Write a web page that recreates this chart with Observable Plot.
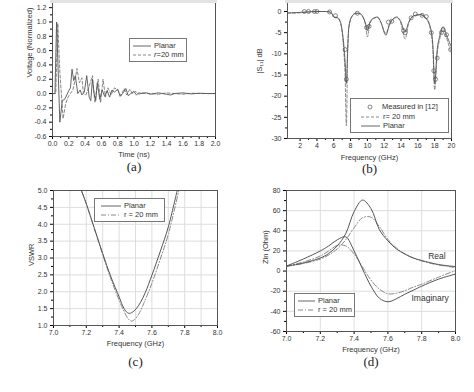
<!DOCTYPE html>
<html>
<head>
<meta charset="utf-8">
<script src="https://cdn.jsdelivr.net/npm/d3@7"></script>
<script src="https://cdn.jsdelivr.net/npm/@observablehq/plot@0.6"></script>
<style>
  html, body { margin: 0; padding: 0; background: #fff; }
  #fig { position: relative; width: 474px; height: 392px; overflow: hidden; background: #fff; font-family: "Liberation Sans", Arial, sans-serif; }
  .panel { position: absolute; }
  .band { position: absolute; top: 0; height: 3px; background: #e2e2e2; }
  .legend { position: absolute; border: 1px solid #777; background: #fff; box-sizing: border-box; }
  .legend span { position: absolute; font-size: 7.5px; color: #333; line-height: 1; white-space: nowrap; }
  .legend svg { position: absolute; overflow: visible; }
</style>
</head>
<body>
<div id="fig"></div>
<script>
// ---------- Panel (a): time-domain voltage ----------
const aPlanarT = [0, 0.03, 0.05, 0.07, 0.09, 0.12, 0.15, 0.2, 0.22, 0.24, 0.26, 0.28, 0.31, 0.34, 0.36, 0.39, 0.42, 0.45, 0.47, 0.49, 0.51, 0.53, 0.55, 0.58, 0.61, 0.64, 0.67, 0.7, 0.73, 0.76, 0.8, 0.83, 0.86, 0.9, 0.93, 0.96, 1.0, 1.03, 1.06, 1.1, 1.15, 1.2, 1.3, 1.4, 1.45, 1.5, 1.6, 1.7, 1.8, 1.9, 2.0];
const aPlanarV = [0, 0, 1.0, 0.3, -0.4, -0.1, -0.08, 0.04, 0.08, 0.34, 0.18, 0.25, 0.0, 0.05, -0.02, 0.02, 0.25, -0.05, -0.1, 0.2, 0.0, -0.1, 0.15, -0.08, 0.05, -0.04, 0.04, -0.05, 0.05, 0.02, 0.06, -0.04, 0.0, 0.07, -0.03, 0.0, 0.03, -0.02, 0.01, 0.0, 0.01, -0.01, 0.01, -0.01, -0.02, 0.0, 0.01, -0.005, 0.005, 0, 0];
const aR20T = [0, 0.04, 0.065, 0.09, 0.13, 0.16, 0.19, 0.22, 0.25, 0.28, 0.3, 0.33, 0.36, 0.38, 0.41, 0.45, 0.49, 0.52, 0.56, 0.59, 0.62, 0.65, 0.68, 0.72, 0.76, 0.8, 0.84, 0.88, 0.91, 0.95, 0.98, 1.02, 1.06, 1.1, 1.2, 1.3, 1.4, 1.5, 1.6, 1.7, 1.8, 1.9, 2.0];
const aR20V = [0, 0, 0.98, 0.3, -0.35, -0.15, -0.05, 0.0, 0.05, 0.2, 0.35, 0.15, 0.22, 0.0, -0.02, 0.1, 0.25, -0.12, 0.2, -0.13, 0.2, -0.05, 0.08, -0.02, 0.08, 0.05, -0.03, 0.07, -0.02, 0.06, 0.0, 0.03, -0.01, 0.01, 0.0, -0.01, 0.01, 0.0, -0.01, 0.005, 0, 0, 0];
const aXTicks = [0, 0.2, 0.4, 0.6, 0.8, 1.0, 1.2, 1.4, 1.6, 1.8, 2.0];
const aYTicks = [-0.6, -0.4, -0.2, 0, 0.2, 0.4, 0.6, 0.8, 1.0, 1.2];

// ---------- Panel (b): |S11| ----------
const bPlanarF = [0.5, 1, 2, 3, 4, 5, 5.5, 5.8, 6.0, 6.4, 6.7, 7.0, 7.2, 7.35, 7.5, 7.65, 7.8, 8.2, 8.6, 9.0, 9.4, 9.8, 10.0, 10.3, 10.8, 11.2, 11.6, 12.2, 12.6, 13.2, 13.5, 13.9, 14.5, 14.9, 15.5, 16.3, 16.9, 17.5, 17.8, 18.0, 18.3, 18.6, 19.0, 19.4, 19.9, 20.0];
const bPlanarV = [-0.3, -0.3, -0.2, -0.1, 0, 0, -0.1, -0.5, -1.3, -1.4, -2.0, -4.5, -8, -12, -17, -9, -3.5, -1.0, -0.4, -0.4, -1.0, -3.0, -4.5, -2.5, -1.5, -1.3, -2.5, -5.6, -3.3, -1.5, -1.3, -2.1, -4.8, -2.6, -1.0, -0.7, -1.4, -3.8, -8.5, -17, -9, -5.8, -3.6, -5.5, -8.0, -8.4];
const bR20F = [0.5, 1, 2, 3, 4, 5, 5.5, 5.8, 6.0, 6.4, 6.7, 7.0, 7.2, 7.35, 7.5, 7.65, 7.8, 8.2, 8.6, 9.0, 9.4, 9.8, 10.0, 10.3, 10.8, 11.2, 11.6, 12.2, 12.6, 13.2, 13.5, 13.9, 14.5, 14.9, 15.5, 16.3, 16.9, 17.5, 17.8, 18.0, 18.3, 18.6, 19.0, 19.4, 19.9, 20.0];
const bR20V = [-0.4, -0.4, -0.3, -0.1, 0, 0, -0.1, -0.6, -1.4, -1.5, -2.2, -5, -9.5, -15, -27, -10, -3.8, -1.1, -0.5, -0.5, -1.1, -3.4, -6.0, -2.8, -1.6, -1.4, -2.6, -5.2, -3.0, -1.6, -1.4, -2.3, -6.5, -2.8, -1.1, -0.8, -1.5, -4.2, -9.5, -18.5, -10, -6.5, -4.3, -6.2, -9.2, -9.6];
const bMeasF = [2.5, 3.0, 3.7, 4.0, 5.5, 6.2, 7.35, 7.5, 8.8, 9.9, 10.2, 12.5, 12.9, 14.3, 14.5, 15.2, 15.7, 16.5, 17.0, 17.6, 17.9, 18.1, 18.3, 18.8, 19.0, 19.4, 19.9];
const bMeasV = [0, 0, 0, 0, -0.1, -1.0, -9, -16, -0.4, -3.8, -3.5, -2.5, -2.3, -4.5, -5, -1.5, -0.6, -0.9, -1.2, -5, -14, -16, -11, -5, -4.3, -5.5, -9];
const bXTicks = [2, 4, 6, 8, 10, 12, 14, 16, 18, 20];
const bYTicks = [-30, -25, -20, -15, -10, -5, 0];

// ---------- Panel (c): VSWR ----------
const cPlanarF = [7.17, 7.2, 7.25, 7.3, 7.35, 7.4, 7.42, 7.44, 7.46, 7.48, 7.505, 7.53, 7.56, 7.6, 7.65, 7.7, 7.754];
const cPlanarV = [5.0, 4.61, 3.87, 3.13, 2.44, 1.85, 1.6, 1.43, 1.36, 1.39, 1.5, 1.68, 1.98, 2.49, 3.18, 3.92, 5.0];
const cR20F = [7.17, 7.2, 7.25, 7.3, 7.35, 7.4, 7.43, 7.455, 7.475, 7.495, 7.52, 7.55, 7.6, 7.65, 7.7, 7.764];
const cR20V = [5.0, 4.6, 3.85, 3.1, 2.38, 1.75, 1.42, 1.2, 1.13, 1.18, 1.34, 1.65, 2.25, 2.95, 3.7, 5.0];
const cXTicks = [7.0, 7.2, 7.4, 7.6, 7.8, 8.0];
const cYTicks = [1.0, 1.5, 2.0, 2.5, 3.0, 3.5, 4.0, 4.5, 5.0];

// ---------- Panel (d): input impedance ----------
const dFreq = [7.0, 7.1, 7.2, 7.25, 7.3, 7.35, 7.4, 7.45, 7.5, 7.55, 7.6, 7.65, 7.7, 7.75, 7.8, 7.9, 8.0];
const dPlanarReal = [4.7, 8, 13, 17.5, 25, 37, 59, 70.5, 62, 41, 30, 22, 17, 13, 10.5, 6.5, 4.5];
const dR20Real = [5, 7.5, 12, 16, 22, 31, 43, 53, 53.5, 44, 31.5, 23, 17, 13, 10, 6, 3.5];
const dPlanarImag = [5, 12, 20, 25, 31, 34, 20, 2, -15, -27, -30.5, -27.5, -23, -19, -15, -8, -3];
const dR20Imag = [5, 9, 15, 20, 25.5, 25, 17, 4, -9, -18, -22.5, -22, -19.5, -16, -13, -6, 0.5];
const dNotes = [{x: 7.89, y: 15, label: "Real"}, {x: 7.85, y: -27, label: "Imaginary"}];
const dXTicks = [7.0, 7.2, 7.4, 7.6, 7.8, 8.0];
const dYTicks = [-60, -40, -20, 0, 20, 40, 60, 80];

// ---------- helpers ----------
const zip = (xs, ys) => xs.map((x, i) => ({x, y: ys[i]}));
const f1 = d => d.toFixed(1);
const f0 = d => String(d);
const SOLID = "#555";
const DASH = "#7a7a7a";
const sans = "'Liberation Sans', Arial, sans-serif";
const serif = "'Liberation Serif', 'Times New Roman', serif";
const fig = document.getElementById("fig");

function place(el, left, top) {
  const d = document.createElement("div");
  d.className = "panel";
  d.style.left = left + "px";
  d.style.top = top + "px";
  d.appendChild(el);
  fig.appendChild(d);
}
function band(left, width) {
  const d = document.createElement("div");
  d.className = "band";
  d.style.left = left + "px";
  d.style.width = width + "px";
  fig.appendChild(d);
}

function minorOf(ticks) {
  const out = [];
  for (let i = 0; i < ticks.length - 1; i++) out.push((ticks[i] + ticks[i + 1]) / 2);
  return out;
}

function axes(xt, yt, xf, yf) {
  return [
    Plot.axisX({ticks: xt, tickFormat: xf, tickSize: 3, tickPadding: 2, label: null, fontSize: 7, fill: "#333"}),
    Plot.axisX({ticks: minorOf(xt), tickSize: 2, tickFormat: () => "", label: null}),
    Plot.axisY({ticks: yt, tickFormat: yf, tickSize: 3, tickPadding: 3, label: null, fontSize: 7, fill: "#333"}),
    Plot.axisY({ticks: minorOf(yt), tickSize: 2, tickFormat: () => "", label: null})
  ];
}

function labels(xl, yl, cap, xdy, ydx, ydy, cdy) {
  return [
    Plot.text([xl], {text: d => d, frameAnchor: "bottom", dy: xdy, fontSize: 7.5, fill: "#333"}),
    Plot.text([yl], {text: d => d, frameAnchor: "left", rotate: -90, dx: ydx, dy: ydy, fontSize: 7.5, fill: "#333"}),
    Plot.text([cap], {text: d => d, frameAnchor: "bottom", dy: cdy, fontSize: 13, fontFamily: serif, fill: "#222"})
  ];
}

// ---------- (a) ----------
const plotA = Plot.plot({
  width: 237, height: 180,
  marginLeft: 52, marginRight: 22, marginTop: 0, marginBottom: 44,
  style: {fontFamily: sans, fontSize: "7px", background: "transparent", overflow: "visible"},
  x: {domain: [0, 2]},
  y: {domain: [-0.6, 1.3]},
  marks: [
    ...axes(aXTicks, aYTicks, f1, f1),
    Plot.line(zip(aR20T, aR20V), {x: "x", y: "y", stroke: DASH, strokeWidth: 0.9, strokeDasharray: "3,2", clip: true}),
    Plot.line(zip(aPlanarT, aPlanarV), {x: "x", y: "y", stroke: SOLID, strokeWidth: 0.9, clip: true}),
    Plot.frame({stroke: "#555"}),
    ...labels("Time (ns)", "Voltage (Normalized)", "(a)", 20, -23, 9, 34)
  ]
});
place(plotA, 0, 0);
band(50, 167);

// ---------- (b) ----------
const plotB = Plot.plot({
  width: 237, height: 180,
  marginLeft: 50, marginRight: 23, marginTop: 0, marginBottom: 42,
  style: {fontFamily: sans, fontSize: "7px", background: "transparent", overflow: "visible"},
  x: {domain: [0.5, 20]},
  y: {domain: [-30, 2.6]},
  marks: [
    ...axes(bXTicks, bYTicks, f0, f0),
    Plot.line(zip(bR20F, bR20V), {x: "x", y: "y", stroke: DASH, strokeWidth: 0.9, strokeDasharray: "3,2", curve: "monotone-x", clip: true}),
    Plot.line(zip(bPlanarF, bPlanarV), {x: "x", y: "y", stroke: SOLID, strokeWidth: 0.9, curve: "monotone-x", clip: true}),
    Plot.dot(zip(bMeasF, bMeasV), {x: "x", y: "y", r: 2, stroke: "#555", strokeWidth: 0.7, fill: "none", clip: true}),
    Plot.frame({stroke: "#555"}),
    ...labels("Frequency (GHz)", "|S\u2081\u2081| dB", "(b)", 21, -28, 4, 34)
  ]
});
place(plotB, 237, 0);
band(285, 168);

// ---------- (c) ----------
const plotC = Plot.plot({
  width: 237, height: 212,
  marginLeft: 53, marginRight: 20, marginTop: 10, marginBottom: 67,
  style: {fontFamily: sans, fontSize: "7px", background: "transparent", overflow: "visible"},
  x: {domain: [7, 8]},
  y: {domain: [1, 5]},
  marks: [
    Plot.gridX({ticks: [7.1, 7.2, 7.3, 7.4, 7.5, 7.6, 7.7, 7.8, 7.9], stroke: "#ddd", strokeOpacity: 1}),
    Plot.gridY({ticks: cYTicks, stroke: "#ddd", strokeOpacity: 1}),
    ...axes(cXTicks, cYTicks, f1, f1),
    Plot.line(zip(cR20F, cR20V), {x: "x", y: "y", stroke: DASH, strokeWidth: 0.9, strokeDasharray: "5,2,1,2", curve: "catmull-rom", clip: true}),
    Plot.line(zip(cPlanarF, cPlanarV), {x: "x", y: "y", stroke: SOLID, strokeWidth: 1, curve: "catmull-rom", clip: true}),
    Plot.frame({stroke: "#555"}),
    ...labels("Frequency (GHz)", "VSWR", "(c)", 20, -22, 8, 40)
  ]
});
place(plotC, 0, 180);

// ---------- (d) ----------
const plotD = Plot.plot({
  width: 237, height: 212,
  marginLeft: 49, marginRight: 19, marginTop: 10, marginBottom: 61,
  style: {fontFamily: sans, fontSize: "7px", background: "transparent", overflow: "visible"},
  x: {domain: [7, 8]},
  y: {domain: [-60, 80]},
  marks: [
    Plot.gridX({ticks: dXTicks, stroke: "#ddd", strokeOpacity: 1}),
    Plot.gridY({ticks: dYTicks, stroke: "#ddd", strokeOpacity: 1}),
    ...axes(dXTicks, dYTicks, f1, f0),
    Plot.line(zip(dFreq, dR20Real), {x: "x", y: "y", stroke: DASH, strokeWidth: 0.9, strokeDasharray: "5,2,1,2", curve: "catmull-rom", clip: true}),
    Plot.line(zip(dFreq, dR20Imag), {x: "x", y: "y", stroke: DASH, strokeWidth: 0.9, strokeDasharray: "5,2,1,2", curve: "catmull-rom", clip: true}),
    Plot.line(zip(dFreq, dPlanarReal), {x: "x", y: "y", stroke: SOLID, strokeWidth: 1, curve: "catmull-rom", clip: true}),
    Plot.line(zip(dFreq, dPlanarImag), {x: "x", y: "y", stroke: SOLID, strokeWidth: 1, curve: "catmull-rom", clip: true}),
    Plot.text(dNotes, {x: "x", y: "y", text: "label", fontSize: 8.5, fill: "#333"}),
    Plot.frame({stroke: "#555"}),
    ...labels("Frequency (GHz)", "Zin (Ohm)", "(d)", 20, -21, 3, 34)
  ]
});
place(plotD, 237, 180);

// ---------- legends (HTML) ----------
function legend(left, top, w, h, rows) {
  const box = document.createElement("div");
  box.className = "legend";
  Object.assign(box.style, {left: left + "px", top: top + "px", width: w + "px", height: h + "px"});
  for (const r of rows) {
    const ns = "http://www.w3.org/2000/svg";
    const svg = document.createElementNS(ns, "svg");
    svg.setAttribute("width", 40); svg.setAttribute("height", 10);
    svg.style.left = "0px"; svg.style.top = (r.y - 5) + "px";
    if (r.kind === "circle") {
      const c = document.createElementNS(ns, "circle");
      c.setAttribute("cx", r.cx); c.setAttribute("cy", 5); c.setAttribute("r", 2);
      c.setAttribute("fill", "none"); c.setAttribute("stroke", "#555"); c.setAttribute("stroke-width", 0.7);
      svg.appendChild(c);
    } else {
      const l = document.createElementNS(ns, "line");
      l.setAttribute("x1", r.x1); l.setAttribute("x2", r.x2); l.setAttribute("y1", 5); l.setAttribute("y2", 5);
      l.setAttribute("stroke", r.dash ? DASH : SOLID); l.setAttribute("stroke-width", 0.9);
      if (r.dash) l.setAttribute("stroke-dasharray", r.dash);
      svg.appendChild(l);
    }
    box.appendChild(svg);
    const s = document.createElement("span");
    s.innerHTML = r.label;
    s.style.left = r.tx + "px"; s.style.top = (r.y - 4) + "px";
    box.appendChild(s);
  }
  fig.appendChild(box);
}

legend(129, 38, 58, 24, [
  {y: 7, x1: 3, x2: 21, label: "Planar", tx: 24},
  {y: 16, x1: 3, x2: 21, dash: "3,2", label: "<i>r</i>=20 mm", tx: 24}
]);
legend(350, 98, 99, 35, [
  {y: 8, kind: "circle", cx: 19, label: "Measured in [12]", tx: 31},
  {y: 18, x1: 10, x2: 29, dash: "3,2", label: "r= 20 mm", tx: 32},
  {y: 27, x1: 10, x2: 29, label: "Planar", tx: 32}
]);
legend(94, 198, 71, 24, [
  {y: 7, x1: 6, x2: 26, label: "Planar", tx: 29},
  {y: 16, x1: 6, x2: 26, dash: "5,2,1,2", label: "r = 20 mm", tx: 29}
]);
legend(294, 293, 61, 24, [
  {y: 7, x1: 3, x2: 20, label: "Planar", tx: 23},
  {y: 16, x1: 3, x2: 20, dash: "5,2,1,2", label: "r = 20 mm", tx: 23}
]);
</script>
</body>
</html>
